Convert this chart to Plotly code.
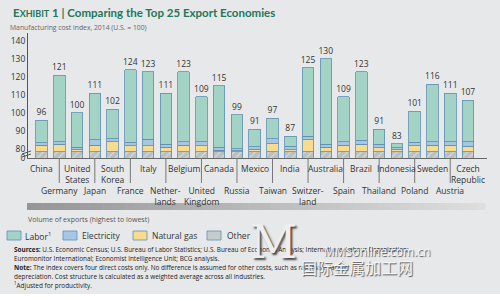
import plotly.graph_objects as go

countries = ["China", "Germany", "United States", "Japan", "South Korea", "France", "Italy",
             "Netherlands", "Belgium", "United Kingdom", "Canada", "Russia", "Mexico", "Taiwan",
             "India", "Switzerland", "Australia", "Spain", "Brazil", "Thailand", "Indonesia",
             "Poland", "Sweden", "Austria", "Czech Republic"]
label_text = ["China", "Germany", "United<br>States", "Japan", "South<br>Korea", "France", "Italy",
              "Nether-<br>lands", "Belgium", "United<br>Kingdom", "Canada", "Russia", "Mexico", "Taiwan",
              "India", "Switzer-<br>land", "Australia", "Spain", "Brazil", "Thailand", "Indonesia",
              "Poland", "Sweden", "Austria", "Czech<br>Republic"]
totals = [96, 121, 100, 111, 102, 124, 123, 111, 123, 109, 115, 99, 91, 97, 87, 125, 130, 109,
          123, 91, 83, 101, 116, 111, 107]
other = [78.5] * 25
natural_gas = [3.7, 4.0, 1.1, 3.7, 5.5, 3.3, 3.3, 2.5, 3.5, 3.3, 0.8, 0.6, 1.1, 4.5, 1.2, 6.5,
               2.5, 3.5, 4.0, 2.3, 1.2, 3.3, 3.7, 3.7, 3.0]
electricity = [1.4, 1.5, 1.3, 3.0, 1.8, 2.0, 3.5, 1.5, 2.0, 2.3, 1.6, 1.0, 1.7, 2.7, 1.7, 2.0,
               1.5, 2.0, 2.3, 1.8, 1.0, 2.0, 1.8, 1.8, 2.5]
labor = [t - o - g - e for t, o, g, e in zip(totals, other, natural_gas, electricity)]

y_tickvals = [75, 80, 90, 100, 110, 120, 130, 140]
y_ticktext = ["0", "80", "90", "100", "110", "120", "130", "140"]

legend_names = ["Labor<sup>1</sup>", "Electricity", "Natural gas", "Other"]

BG = "#e7e8e9"
EDGE = "#5f8fb3"
C_LABOR, C_ELEC, C_GAS, C_OTHER = "#a3d3c5", "#a6c6e6", "#f7dc8d", "#c6cccb"
W, H = 500, 301
L, R, T, B = 28, 13, 33, 143
PW, PH = W - L - R, H - T - B


def xp(px):
    return (px - L) / PW


def yp(py):
    return (H - B - py) / PH


fig = go.Figure()
fig.add_trace(go.Bar(x=countries, y=other, name="Other",
                     marker=dict(color=C_OTHER, line=dict(color=EDGE, width=0.8),
                                 pattern=dict(shape="/", fgcolor="#f4f4f4", bgcolor="#b9c0bf",
                                              size=5, solidity=0.25))))
fig.add_trace(go.Bar(x=countries, y=natural_gas, name="Natural gas",
                     marker=dict(color=C_GAS, line=dict(color=EDGE, width=0.8))))
fig.add_trace(go.Bar(x=countries, y=electricity, name="Electricity",
                     marker=dict(color=C_ELEC, line=dict(color=EDGE, width=0.8))))
fig.add_trace(go.Bar(x=countries, y=labor, name="Labor",
                     marker=dict(color=C_LABOR, line=dict(color=EDGE, width=0.8)),
                     text=totals, texttemplate="%{text}", textposition="outside",
                     constraintext="none", cliponaxis=False,
                     textfont=dict(size=8.5, color="#333333")))

annotations = []
shapes = []
# category labels in two staggered rows
for i, (c, lt) in enumerate(zip(countries, label_text)):
    if i % 2 == 0:
        annotations.append(dict(x=c, xref="x", y=yp(161), yref="paper", text=lt,
                                showarrow=False, yanchor="top", xanchor="center",
                                font=dict(size=8.5, color="#333333"), align="center"))
    else:
        annotations.append(dict(x=c, xref="x", y=yp(183), yref="paper", text=lt,
                                showarrow=False, yanchor="top", xanchor="center",
                                font=dict(size=8.5, color="#333333"), align="center"))
        shapes.append(dict(type="line", xref="x", x0=c, x1=c, yref="paper",
                           y0=yp(158), y1=yp(183), line=dict(color="#777777", width=1)))

# title / subtitle
annotations.append(dict(x=xp(11), y=yp(12), xref="paper", yref="paper", xanchor="left",
                        yanchor="middle", showarrow=False,
                        text="<b>E<span style='font-size:9px'>XHIBIT</span> 1 | Comparing the Top 25 Export Economies</b>",
                        font=dict(family="Lato", size=11.5, color="#23775a")))
annotations.append(dict(x=xp(8), y=yp(28), xref="paper", yref="paper", xanchor="left",
                        yanchor="middle", showarrow=False,
                        text="Manufacturing cost index, 2014 (U.S. = 100)",
                        font=dict(size=6.8, color="#666666")))
annotations.append(dict(x=xp(26), y=yp(219), xref="paper", yref="paper", xanchor="left",
                        yanchor="middle", showarrow=False,
                        text="Volume of exports (highest to lowest)",
                        font=dict(size=7, color="#555555")))

# manual legend
leg_box_x = [7, 63, 133, 207]
leg_text_x = [23, 80, 150, 225]
leg_colors = [C_LABOR, C_ELEC, C_GAS, C_OTHER]
for bx, tx, col, nm in zip(leg_box_x, leg_text_x, leg_colors, legend_names):
    shapes.append(dict(type="rect", xref="paper", yref="paper", x0=xp(bx), x1=xp(bx + 14),
                       y0=yp(231), y1=yp(240), fillcolor=col,
                       line=dict(color=EDGE, width=0.8)))
    annotations.append(dict(x=xp(tx), y=yp(235.5), xref="paper", yref="paper",
                            xanchor="left", yanchor="middle", showarrow=False, text=nm,
                            font=dict(size=8.5, color="#333333")))

notes = [
    "<b>Sources:</b> U.S. Economic Census; U.S. Bureau of Labor Statistics; U.S. Bureau of Economic Analysis; International Labour Organization;",
    "Euromonitor International; Economist Intelligence Unit; BCG analysis.",
    "<b>Note:</b> The index covers four direct costs only. No difference is assumed for other costs, such as raw material and",
    "depreciation. Cost structure is calculated as a weighted average across all industries.",
    "<sup>1</sup>Adjusted for productivity.",
]
for k, line in enumerate(notes):
    annotations.append(dict(x=xp(12), y=yp(249 + 9 * k), xref="paper", yref="paper",
                            xanchor="left", yanchor="middle", showarrow=False, text=line,
                            font=dict(size=6.4, color="#222222")))

# watermark
annotations.append(dict(x=xp(273), y=yp(271), xref="paper", yref="paper", showarrow=False,
                        text="M", font=dict(family="DejaVu Serif", size=46, color="#eeeeee",
                                            shadow="2px 2px 2px #444")))
annotations.append(dict(x=xp(322), y=yp(262), xref="paper", yref="paper", xanchor="left",
                        showarrow=False, text="MMSonline.com.cn",
                        font=dict(size=12, color="#f4f4f4", shadow="1px 1px 1px #555")))
annotations.append(dict(x=xp(299), y=yp(281), xref="paper", yref="paper", xanchor="left",
                        showarrow=False, text="国际金属加工网",
                        font=dict(family="Noto Sans CJK SC", size=16, color="#f4f4f4",
                                  shadow="1px 1px 1px #555")))

# gradient bar
n = 60
x_start, x_end = 27, 485
for k in range(n):
    f = k / (n - 1)
    v = int(150 + (222 - 150) * f)
    shapes.append(dict(type="rect", xref="paper", yref="paper",
                       x0=xp(x_start + (x_end - x_start) * k / n),
                       x1=xp(x_start + (x_end - x_start) * (k + 1) / n + 0.5),
                       y0=yp(203), y1=yp(210), line=dict(width=0),
                       fillcolor=f"rgb({v},{v},{v})"))

# axis break marks
for dy in (0, 3):
    shapes.append(dict(type="line", xref="paper", yref="paper", x0=xp(22), x1=xp(31),
                       y0=yp(154 + dy), y1=yp(151 + dy), line=dict(color="#555555", width=1)))

# white strip at bottom
shapes.append(dict(type="rect", xref="paper", yref="paper", x0=xp(-5), x1=xp(505),
                   y0=yp(294), y1=yp(305), line=dict(width=0), fillcolor="white", layer="above"))

fig.update_layout(
    width=W, height=H, barmode="stack", bargap=0.35,
    margin=dict(l=L, r=R, t=T, b=B),
    paper_bgcolor=BG, plot_bgcolor=BG,
    font=dict(family="Open Sans", color="#333333"),
    showlegend=False,
    xaxis=dict(showticklabels=False, showline=True, linecolor="#666666", linewidth=1,
               ticks="", showgrid=False, zeroline=False),
    yaxis=dict(range=[75, 144.4], tickvals=y_tickvals, ticktext=y_ticktext, showgrid=False,
               zeroline=False, showline=True, linecolor="#555555", linewidth=1,
               tickfont=dict(size=8.5, color="#333333"), ticks=""),
    annotations=annotations, shapes=shapes,
)

fig.write_html("out.html")
